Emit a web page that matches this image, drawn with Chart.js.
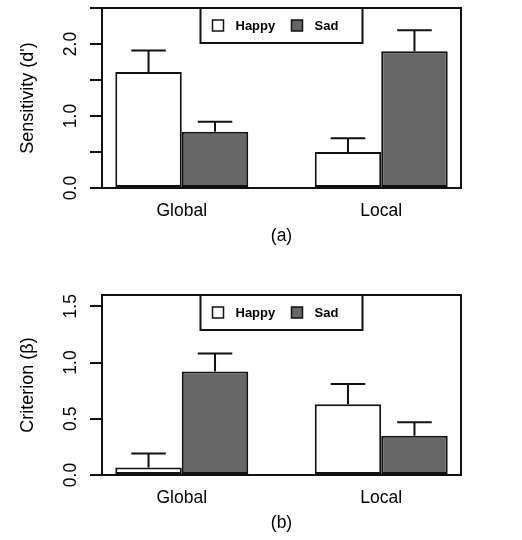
<!DOCTYPE html>
<html lang="en">
<head>
<meta charset="UTF-8">
<title>Sensitivity and criterion</title>
<script src="https://cdn.jsdelivr.net/npm/chart.js@4.4.0/dist/chart.umd.min.js"></script>
<style>
  body { margin: 0; background: #fff; }
  canvas { position: absolute; left: 0; }
</style>
</head>
<body>
<canvas id="chartA" width="522" height="265" style="top:0"></canvas>
<canvas id="chartB" width="522" height="275" style="top:265px"></canvas>
<script>
var groups = ['Global', 'Local'];
var seriesNames = ['Happy', 'Sad'];

// (a) sensitivity d'
var dHappy = [1.61, 0.50];
var dSad = [0.78, 1.90];
var dHappyErr = [0.30, 0.19];
var dSadErr = [0.14, 0.29];
var dTickLabels = ['0.0', '1.0', '2.0'];

// (b) criterion beta
var bHappy = [0.066, 0.63];
var bSad = [0.92, 0.35];
var bHappyErr = [0.125, 0.18];
var bSadErr = [0.16, 0.12];
var bTickLabels = ['0.0', '0.5', '1.0', '1.5'];

Chart.defaults.font.family = '"Liberation Sans", Arial, sans-serif';
Chart.defaults.color = '#000';

var errorBars = {
  id: 'errorBars',
  afterDatasetsDraw: function(chart) {
    var ctx = chart.ctx, y = chart.scales.y;
    ctx.save();
    ctx.strokeStyle = '#111';
    ctx.lineWidth = 2;
    chart.data.datasets.forEach(function(ds, di) {
      chart.getDatasetMeta(di).data.forEach(function(bar, i) {
        var top = y.getPixelForValue(ds.data[i].y + ds.errors[i]);
        var half = bar.width * 0.26;
        ctx.beginPath();
        ctx.moveTo(bar.x, bar.y);
        ctx.lineTo(bar.x, top);
        ctx.moveTo(bar.x - half, top);
        ctx.lineTo(bar.x + half, top);
        ctx.stroke();
      });
    });
    ctx.restore();
  }
};

// box round the plot + the legend at the top
var frameAndKey = {
  id: 'frameAndKey',
  afterDraw: function(chart) {
    var a = chart.chartArea, ctx = chart.ctx;
    ctx.save();
    ctx.strokeStyle = '#111';
    ctx.lineWidth = 2;
    ctx.strokeRect(a.left, a.top, a.right - a.left, a.bottom - a.top);

    var cx = (a.left + a.right) / 2;
    var w = 162, h = 35;
    var bx = cx - w / 2;
    ctx.fillStyle = '#fff';
    ctx.fillRect(bx, a.top, w, h);
    ctx.strokeRect(bx, a.top, w, h);
    ctx.font = 'bold 13px "Liberation Sans"';
    ctx.textBaseline = 'middle';
    var offs = [12, 91];
    chart.data.datasets.forEach(function(ds, i) {
      var x = bx + offs[i];
      var yy = a.top + h / 2;
      ctx.fillStyle = ds.backgroundColor;
      ctx.fillRect(x, yy - 5.5, 11, 11);
      ctx.lineWidth = 1.5;
      ctx.strokeRect(x, yy - 5.5, 11, 11);
      ctx.fillStyle = '#000';
      ctx.fillText(ds.label, x + 23, yy + 1);
    });
    ctx.restore();
  }
};

function toPoints(vals) {
  return vals.map(function(v, i) { return { x: i, y: v }; });
}

function makePanel(id, happy, sad, happyErr, sadErr, yMax, tickLabels, yTitle, xTitle, padTop, xAxisH, xTitlePad) {
  return new Chart(document.getElementById(id), {
    type: 'bar',
    data: {
      datasets: [
        { label: seriesNames[0], data: toPoints(happy), errors: happyErr,
          backgroundColor: '#ffffff', borderColor: '#111', borderWidth: 2, borderSkipped: false },
        { label: seriesNames[1], data: toPoints(sad), errors: sadErr,
          backgroundColor: '#666666', borderColor: '#111', borderWidth: 2, borderSkipped: false }
      ]
    },
    options: {
      responsive: false,
      animation: false,
      categoryPercentage: 2 / 3,
      barPercentage: 1,
      layout: { padding: { left: 0, right: 61, top: padTop, bottom: 0 } },
      plugins: { legend: { display: false }, tooltip: { enabled: false } },
      scales: {
        x: {
          type: 'linear', min: -0.4, max: 1.4, offset: false,
          afterBuildTicks: function(s) { s.ticks = groups.map(function(g, i) { return { value: i }; }); },
          afterFit: function(s) { s.height = xAxisH; },
          ticks: { callback: function(v) { return groups[v]; }, font: { size: 17.5 }, color: '#000',
                   padding: 13, maxRotation: 0, autoSkip: false },
          grid: { display: false, drawTicks: false },
          border: { display: false },
          title: { display: true, text: xTitle, font: { size: 17.5 }, color: '#000',
                   padding: { top: 0, bottom: xTitlePad } }
        },
        y: {
          min: 0, max: yMax,
          afterFit: function(s) { s.width = 102; s.paddingTop = 0; s.paddingBottom = 0; },
          ticks: { stepSize: 0.5, includeBounds: false, minRotation: 90, maxRotation: 90,
                   crossAlign: 'center', font: { size: 17.5 }, color: '#000', padding: 7,
                   callback: function(v) { var t = v.toFixed(1); return tickLabels.indexOf(t) >= 0 ? t : ''; } },
          grid: { drawOnChartArea: false, tickLength: 12, color: '#111', lineWidth: 2 },
          border: { display: true, color: '#111', width: 2 },
          title: { display: true, text: yTitle, font: { size: 18 }, color: '#000',
                   padding: { top: 17, bottom: 0 } }
        }
      }
    },
    plugins: [errorBars, frameAndKey]
  });
}

makePanel('chartA', dHappy, dSad, dHappyErr, dSadErr, 2.5, dTickLabels,
  "Sensitivity (d')", '(a)', 8, 77, 18);
makePanel('chartB', bHappy, bSad, bHappyErr, bSadErr, 1.6, bTickLabels,
  'Criterion (\u03b2)', '(b)', 30, 65, 6);
</script>
</body>
</html>
